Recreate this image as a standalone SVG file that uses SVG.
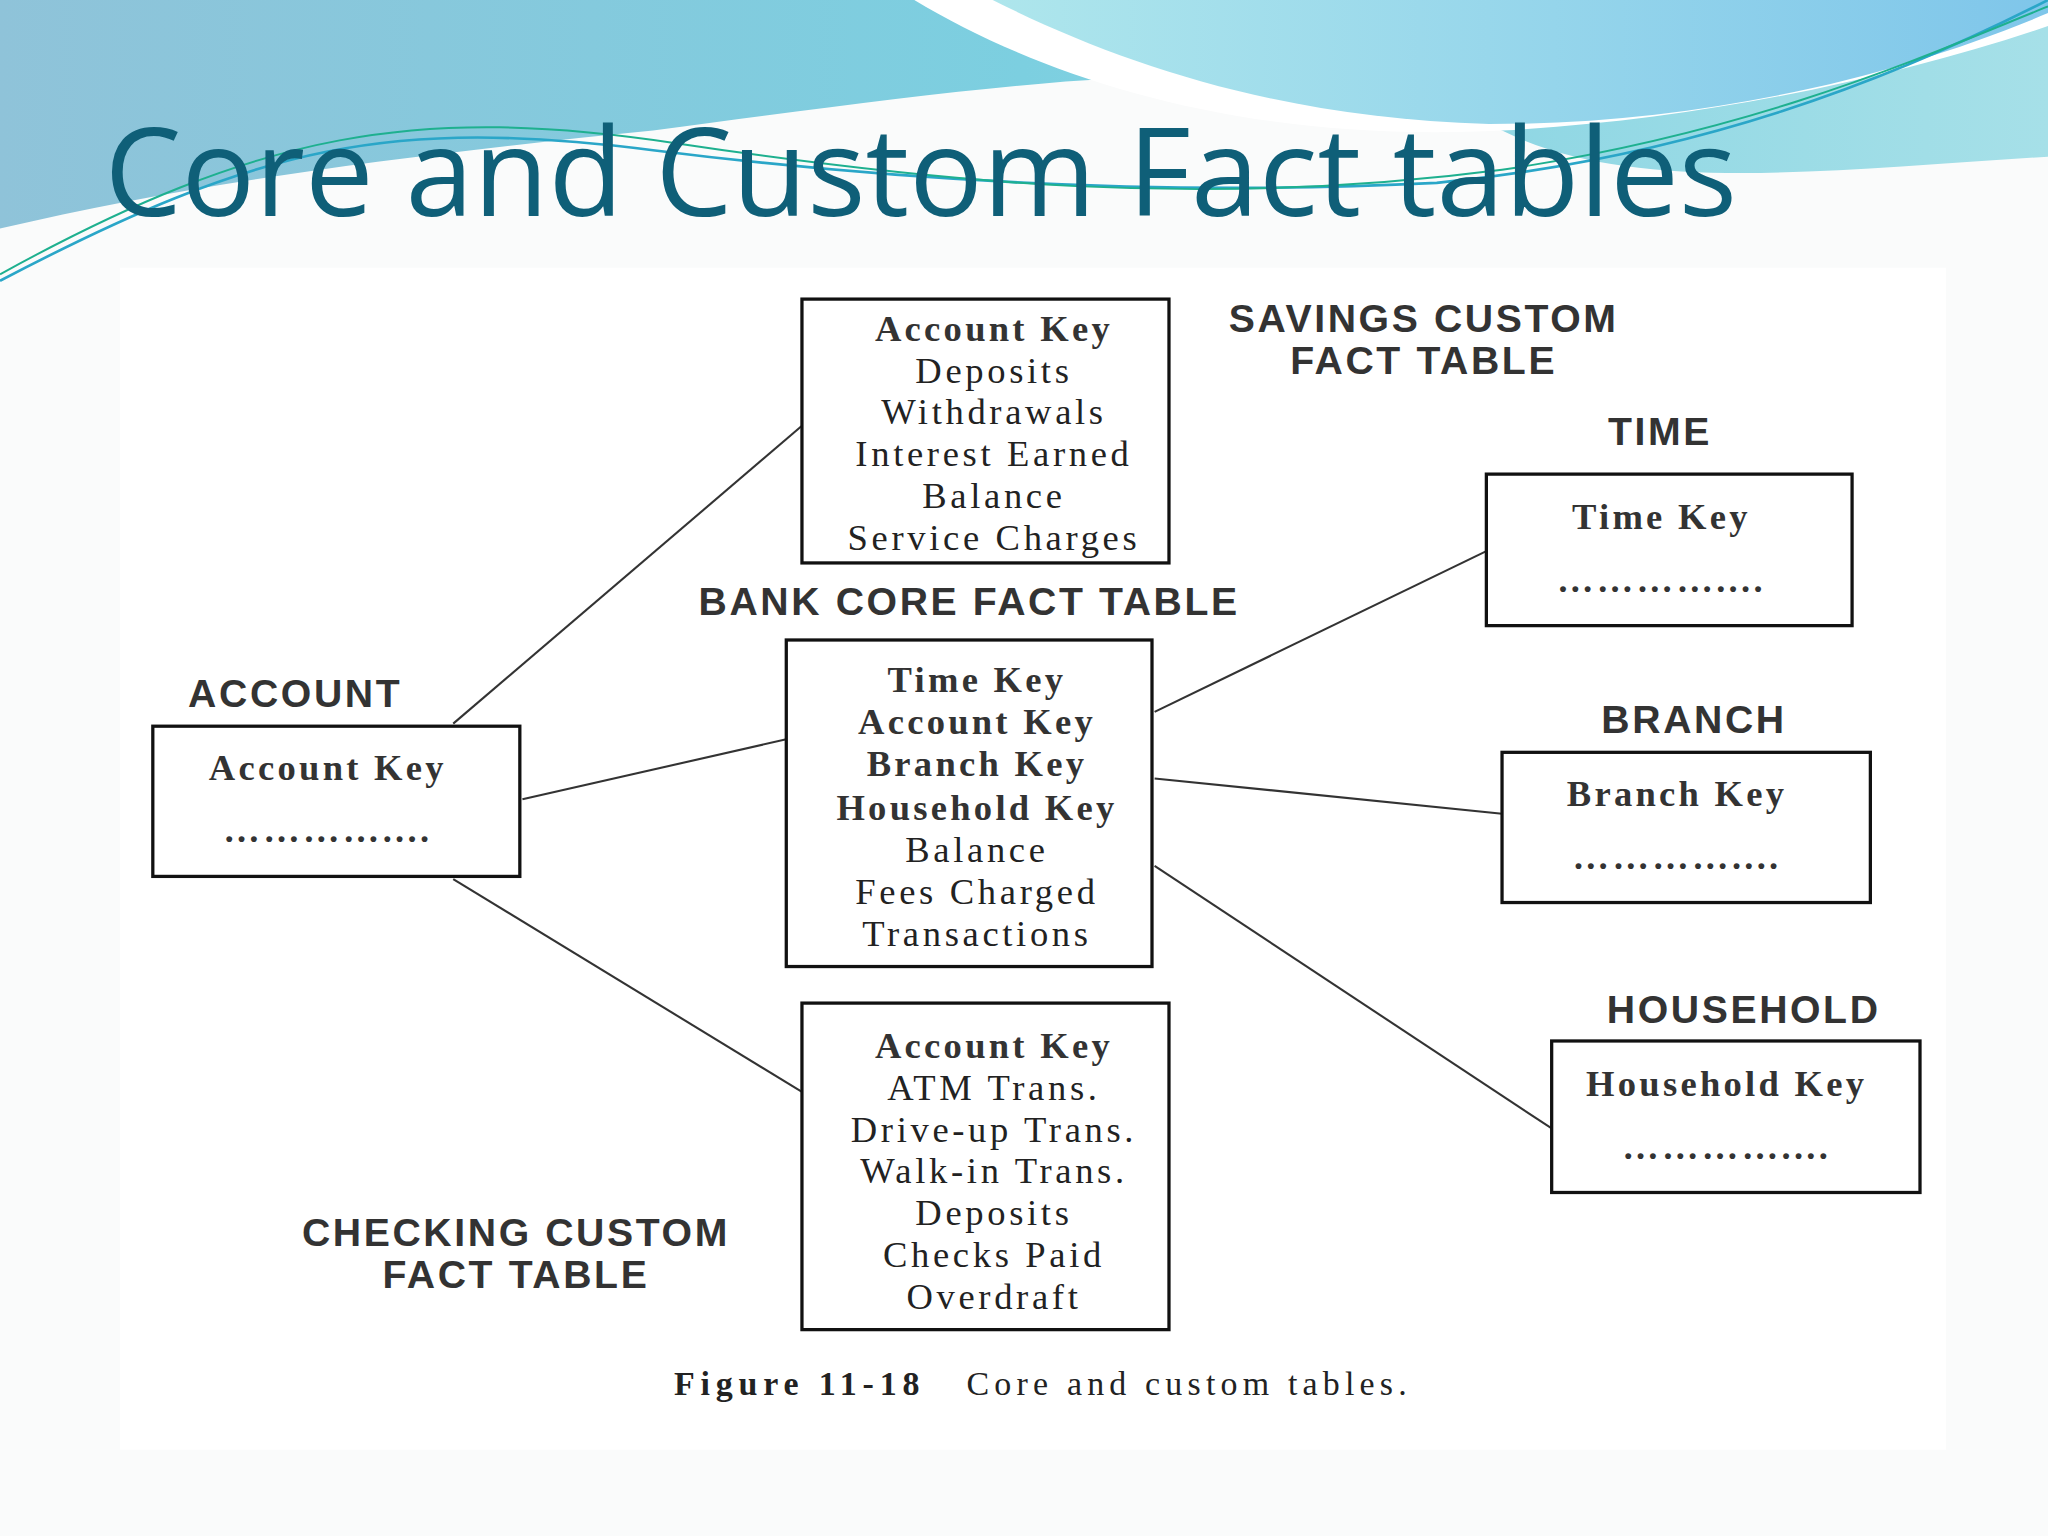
<svg xmlns="http://www.w3.org/2000/svg" width="2048" height="1536" viewBox="0 0 2048 1536">
<defs>
<linearGradient id="bg1" x1="0" y1="0" x2="1" y2="0"><stop offset="0" stop-color="#8fc3d9"/><stop offset="0.5" stop-color="#7ccfe0"/><stop offset="1" stop-color="#a6e0e8"/></linearGradient>
<linearGradient id="bg2" x1="0" y1="0" x2="1" y2="0"><stop offset="0" stop-color="#aee6ec"/><stop offset="1" stop-color="#7fc6ea"/></linearGradient>
<style>
.box{fill:#fff;stroke:#111;stroke-width:2.5}
.ln{stroke:#333;stroke-width:1.6;fill:none}
.k{font-family:"Liberation Serif",serif;font-size:28px;fill:#222;text-anchor:middle;letter-spacing:2.8px}
.kb{font-family:"Liberation Serif",serif;font-size:28px;font-weight:bold;fill:#333;text-anchor:middle;letter-spacing:2.5px}
.lab{font-family:"Liberation Sans",sans-serif;font-size:30px;font-weight:bold;fill:#333;text-anchor:middle;letter-spacing:2px}
</style>
</defs>
<g transform="scale(1.30612)">
<rect width="1568" height="1176" fill="#fafbfb"/>
<path d="M0 0 H1568 V120 C1400 130 1250 150 1150 100 C1000 30 800 60 500 100 C300 120 150 140 0 175 Z" fill="url(#bg1)"/>
<path d="M700 0 C800 60 950 110 1150 100 C1300 92 1450 60 1568 20 V0 Z" fill="#fff"/>
<path d="M760 0 C860 50 980 90 1140 95 C1300 95 1450 60 1568 10 V0 Z" fill="url(#bg2)"/>
<path d="M0 215 C200 110 300 90 500 115 C700 140 900 150 1100 140 C1300 120 1450 60 1568 0" stroke="#2aa6c8" stroke-width="2" fill="none"/>
<path d="M0 210 C200 100 320 80 520 110 C720 140 920 160 1150 130 C1350 100 1480 40 1568 5" stroke="#1eb08f" stroke-width="1.5" fill="none"/>
<text x="80" y="165" font-family="Open Sans,DejaVu Sans,sans-serif" font-size="94" fill="#0f5f78" textLength="1250" lengthAdjust="spacingAndGlyphs">Core and Custom Fact tables</text>
<rect x="92" y="205" width="1398" height="905" fill="#fff"/>
<g id="connectors">
<line class="ln" x1="347" y1="554" x2="614" y2="326"/>
<line class="ln" x1="400" y1="612" x2="602" y2="566"/>
<line class="ln" x1="347" y1="673" x2="614" y2="836"/>
<line class="ln" x1="884" y1="545" x2="1138" y2="422"/>
<line class="ln" x1="884" y1="596" x2="1150" y2="623"/>
<line class="ln" x1="884" y1="663" x2="1188" y2="864"/>
</g>
<g id="savings">
<rect class="box" x="614" y="229" width="281" height="202"/>
<text class="kb" x="761" y="261">Account Key</text>
<text class="k" x="761" y="293">Deposits</text>
<text class="k" x="761" y="325">Withdrawals</text>
<text class="k" x="761" y="357">Interest Earned</text>
<text class="k" x="761" y="389">Balance</text>
<text class="k" x="761" y="421">Service Charges</text>
<text class="lab" x="1090" y="254">SAVINGS CUSTOM</text>
<text class="lab" x="1090" y="286">FACT TABLE</text>
</g>
<g id="core">
<text class="lab" x="742" y="471">BANK CORE FACT TABLE</text>
<rect class="box" x="602" y="490" width="280" height="250"/>
<text class="kb" x="748" y="530">Time Key</text>
<text class="kb" x="748" y="562">Account Key</text>
<text class="kb" x="748" y="594">Branch Key</text>
<text class="kb" x="748" y="628">Household Key</text>
<text class="k" x="748" y="660">Balance</text>
<text class="k" x="748" y="692">Fees Charged</text>
<text class="k" x="748" y="724">Transactions</text>
</g>
<g id="checking">
<rect class="box" x="614" y="768" width="281" height="250"/>
<text class="kb" x="761" y="810">Account Key</text>
<text class="k" x="761" y="842">ATM Trans.</text>
<text class="k" x="761" y="874">Drive-up Trans.</text>
<text class="k" x="761" y="906">Walk-in Trans.</text>
<text class="k" x="761" y="938">Deposits</text>
<text class="k" x="761" y="970">Checks Paid</text>
<text class="k" x="761" y="1002">Overdraft</text>
<text class="lab" x="395" y="954">CHECKING CUSTOM</text>
<text class="lab" x="395" y="986">FACT TABLE</text>
</g>
<g id="account">
<text class="lab" x="226" y="541">ACCOUNT</text>
<rect class="box" x="117" y="556" width="281" height="115"/>
<text class="kb" x="251" y="597">Account Key</text>
<text class="kb" x="251" y="645">…………....</text>
</g>
<g id="time">
<text class="lab" x="1271" y="341">TIME</text>
<rect class="box" x="1138" y="363" width="280" height="116"/>
<text class="kb" x="1272" y="405">Time Key</text>
<text class="kb" x="1272" y="453">…………....</text>
</g>
<g id="branch">
<text class="lab" x="1297" y="561">BRANCH</text>
<rect class="box" x="1150" y="576" width="282" height="115"/>
<text class="kb" x="1284" y="617">Branch Key</text>
<text class="kb" x="1284" y="665">…………....</text>
</g>
<g id="household">
<text class="lab" x="1335" y="783">HOUSEHOLD</text>
<rect class="box" x="1188" y="797" width="282" height="116"/>
<text class="kb" x="1322" y="839">Household Key</text>
<text class="kb" x="1322" y="887">…………....</text>
</g>
<text x="516" y="1068" font-family="Liberation Serif,serif" font-size="26" font-weight="bold" fill="#222" textLength="188">Figure 11-18</text>
<text x="740" y="1068" font-family="Liberation Serif,serif" font-size="26" fill="#222" textLength="337">Core and custom tables.</text>
</g>
</svg>
